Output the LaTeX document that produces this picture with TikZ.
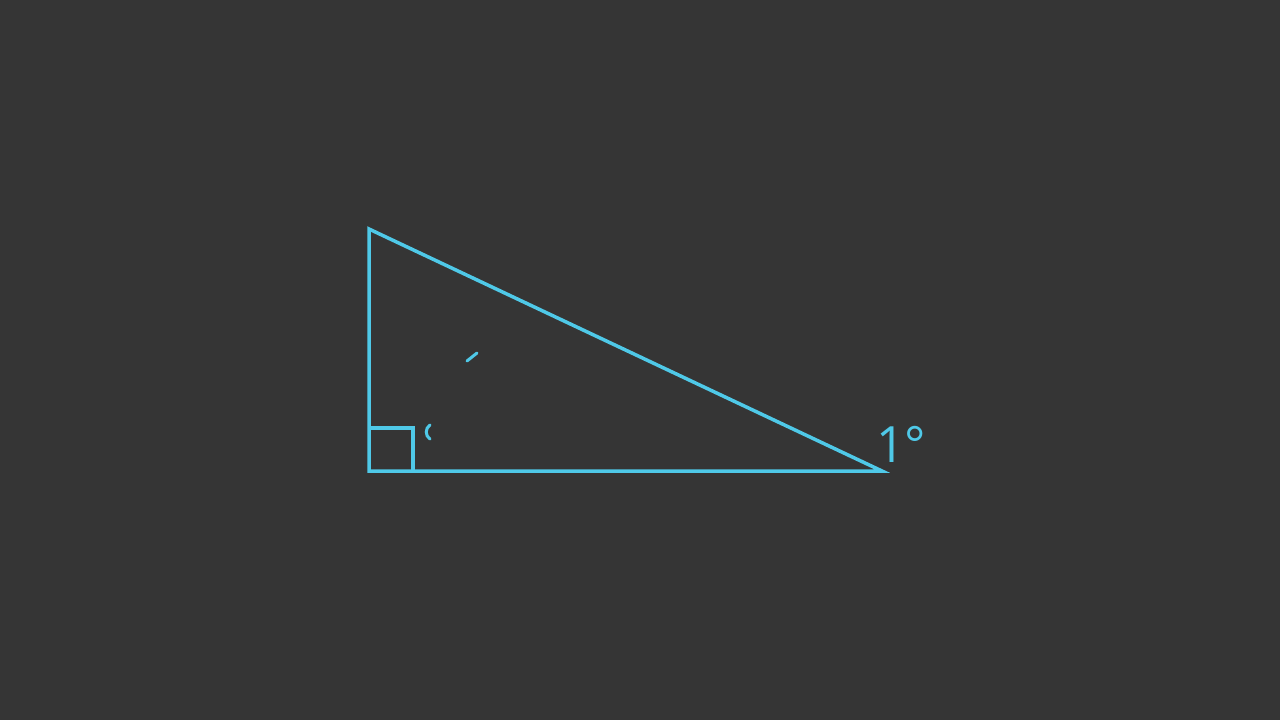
\documentclass[tikz,border=0pt]{standalone}
\usepackage{fontspec}
\setmainfont{Open Sans}
\definecolor{bg}{HTML}{353535}
\definecolor{cy}{HTML}{4FC9E8}
\begin{document}
\begin{tikzpicture}[x=1pt,y=-1pt,
  edge/.style={draw=cy,line width=3.5pt,line join=miter},
  tickstroke/.style={draw=cy,line width=3pt,line cap=round}]
\fill[bg] (0,0) rectangle (1280,720);
\useasboundingbox (0,0) rectangle (1280,720);
\coordinate (A) at (369,229);
\coordinate (B) at (369,471);
\coordinate (C) at (882,471);
\draw[edge] (A) -- (B) -- (C) -- cycle;
\coordinate (S1) at (369,428);
\coordinate (S2) at (413,428);
\coordinate (S3) at (413,471);
\draw[edge] (S1) -- (S2) -- (S3);
\coordinate (P1) at (430,425);
\coordinate (P2) at (430,439);
\draw[tickstroke] (P1) .. controls (425,428) and (425,436) .. (P2);
\coordinate (T1) at (467,361);
\coordinate (T2) at (477,353);
\draw[tickstroke] (T1) -- (T2);
\node[text=cy,font=\fontsize{50}{50}\selectfont,anchor=base west,inner sep=0pt] (lab) at (876,462) {1°};
\end{tikzpicture}
\end{document}
